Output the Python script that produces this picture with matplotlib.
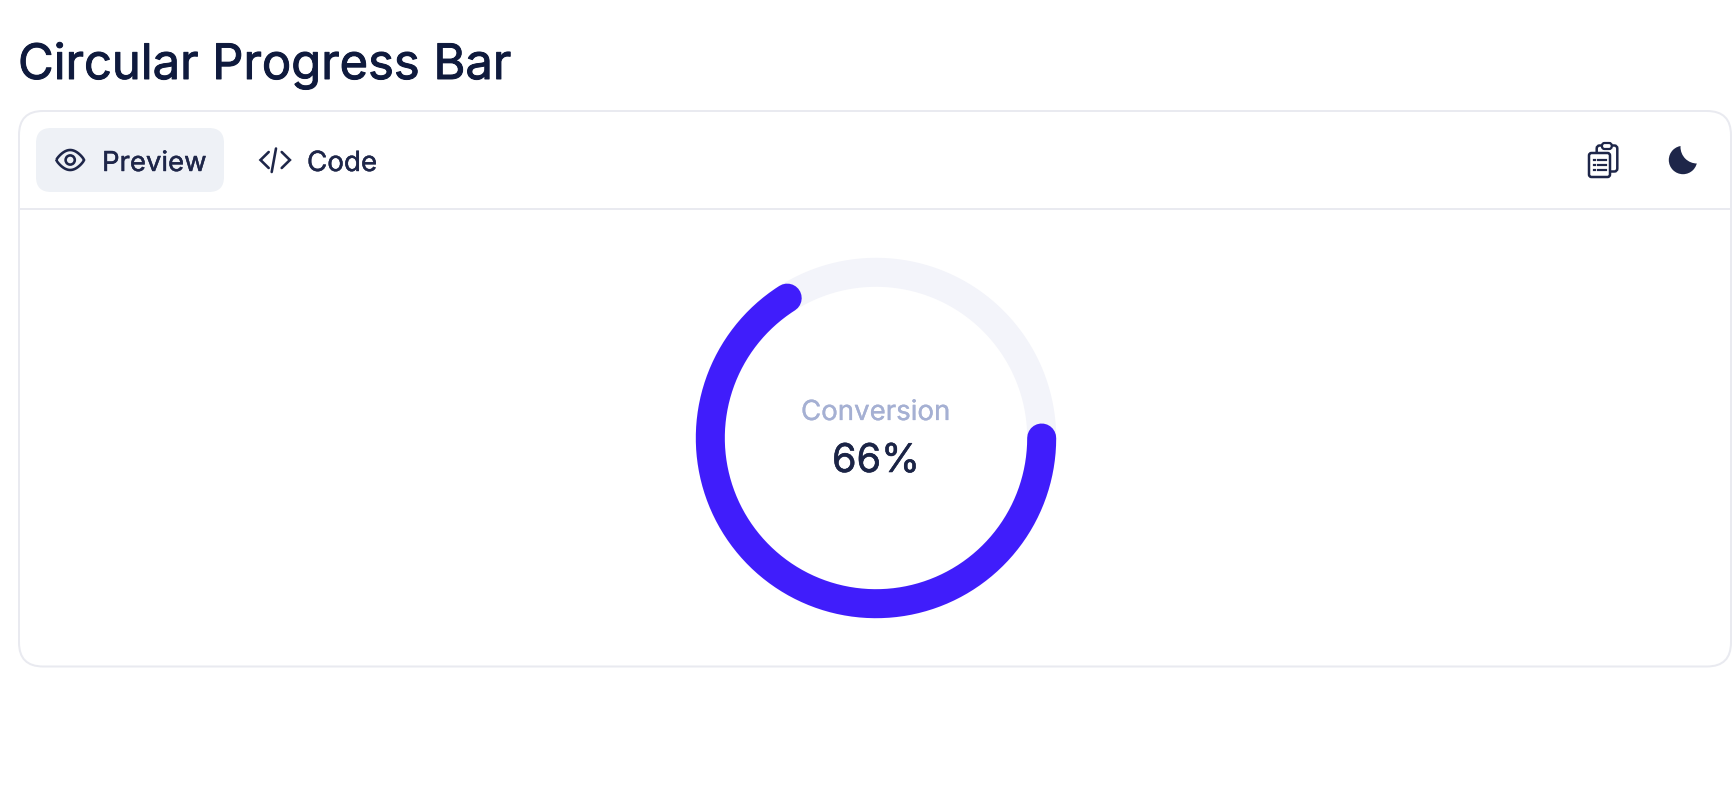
import numpy as np
import matplotlib
matplotlib.use("Agg")
import matplotlib.pyplot as plt
import matplotlib.patheffects as pe
from matplotlib.patches import FancyBboxPatch, Circle, PathPatch
from matplotlib.path import Path

# Data
title = "Circular Progress Bar"
tabs = ["Preview", "Code"]
metric_label = "Conversion"
metric_value = 66
metric_max = 100

W, H = 1732, 788
NAVY = "#1E2649"
plt.rcParams["font.family"] = ["Inter", "DejaVu Sans"]
fig = plt.figure(figsize=(W / 100, H / 100), dpi=100, facecolor="white")
ax = fig.add_axes([0, 0, 1, 1])
ax.set_xlim(0, W)
ax.set_ylim(H, 0)
ax.axis("off")
px = 0.72  # pixels to points


def rbox(x0, y0, x1, y1, r, **kw):
    p = FancyBboxPatch((x0, y0), x1 - x0, y1 - y0,
                       boxstyle=f"round,pad=0,rounding_size={r}", **kw)
    ax.add_patch(p)
    return p


def embolden(t, w):
    t.set_path_effects([pe.withStroke(linewidth=w, foreground=t.get_color())])


# Title
tt = ax.text(18, 79, title, fontsize=35.2, color="#0F1A3D", va="baseline", ha="left")
embolden(tt, 0.7)

# Card
rbox(19, 111, 1731, 666.5, 24, fc="white", ec="#E9EAF0", lw=2 * px)
ax.plot([19, 1731], [208.7, 208.7], color="#E9EAF0", lw=2 * px, solid_capstyle="butt")

# Active tab
rbox(36, 128, 224, 192, 15, fc="#EEF1F6", ec="none")
embolden(ax.text(102, 171, tabs[0], fontsize=19.8, color=NAVY, va="baseline", ha="left"), 0.3)
embolden(ax.text(307, 171, tabs[1], fontsize=20, color=NAVY, va="baseline", ha="left"), 0.3)

# Eye icon
cx, cy = 70.2, 160
t = np.linspace(0, 1, 30)
top = [(56.3 + 27.8 * a, cy - 10 * np.sin(np.pi * a) ** 0.8) for a in t]
bot = [(84.1 - 27.8 * a, cy + 10 * np.sin(np.pi * a) ** 0.8) for a in t]
ax.add_patch(PathPatch(Path(top + bot + [top[0]]), fc="none", ec=NAVY, lw=2.6 * px, joinstyle="round"))
ax.add_patch(Circle((cx, cy), 4.6, fc="none", ec=NAVY, lw=2.6 * px))

# Code icon
ic = dict(color=NAVY, lw=2.6 * px, solid_capstyle="round", solid_joinstyle="miter")
ax.plot([268.7, 260.5, 268.7], [152, 160, 168], **ic)
ax.plot([281.7, 289.9, 281.7], [152, 160, 168], **ic)
ax.plot([276, 271.7], [148.5, 172], **ic)

# Clipboard icon
rbox(1596.7, 145.5, 1617.3, 171.5, 3, fc="white", ec=NAVY, lw=2.5 * px)
rbox(1602, 143, 1611.7, 149, 2.5, fc="white", ec=NAVY, lw=2.2 * px)
rbox(1589, 153, 1610, 177, 2.5, fc="white", ec=NAVY, lw=2.5 * px, zorder=3)
for yy in (160, 165, 170):
    ax.plot([1593.5, 1594.5], [yy, yy], color=NAVY, lw=2.2 * px, zorder=4)
    ax.plot([1597.5, 1606], [yy, yy], color=NAVY, lw=2.2 * px, zorder=4)

# Moon icon
ax.add_patch(Circle((1683, 160), 14.2, fc=NAVY, ec="none"))
ax.add_patch(Circle((1697, 147), 16.5, fc="white", ec="none"))

# Centre labels
embolden(ax.text(875.5, 420, metric_label, fontsize=19.9, color="#A5B0D3",
                 va="baseline", ha="center"), 0.2)
embolden(ax.text(876, 472, f"{metric_value}%", fontsize=28.5, color="#1B2446",
                 va="baseline", ha="center"), 0.4)

# Progress ring, drawn on its own polar axes above the card
CX, CY, R = 876, 438, 165.7
box = 2 * R
pax = fig.add_axes([(CX - R) / W, 1 - (CY + R) / H, box / W, box / H], projection="polar")
pax.set_zorder(5)
pax.set_theta_zero_location("E")
pax.set_theta_direction(-1)
pax.set_rlim(0, 1)
pax.axis("off")
full = np.linspace(0, 2 * np.pi, 400)
pax.plot(full, np.ones_like(full), color="#F3F4FA", lw=29 * px, clip_on=False, solid_capstyle="butt")
arc = np.linspace(0, 2 * np.pi * metric_value / metric_max, 300)
pax.plot(arc, np.ones_like(arc), color="#401DFB", lw=29 * px, clip_on=False, solid_capstyle="round")

fig.savefig("out.png", dpi=100, facecolor="white")
